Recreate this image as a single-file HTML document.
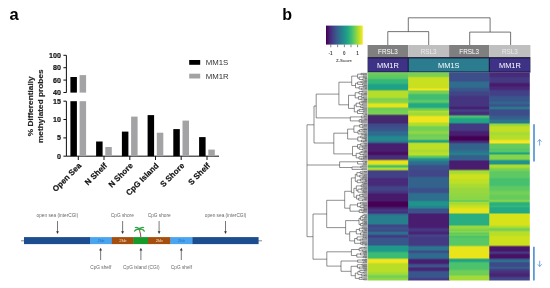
<!DOCTYPE html>
<html lang="en"><head><meta charset="utf-8"><title>Figure</title>
<style>html,body{margin:0;padding:0;background:#fff}body{width:550px;height:288px;overflow:hidden}svg{display:block}text{font-family:'Liberation Sans', Arial, sans-serif}</style></head><body>
<svg width="550" height="288" viewBox="0 0 550 288">
<defs>
<linearGradient id="g1" gradientUnits="userSpaceOnUse" x1="0" y1="72.5" x2="0" y2="280.5"><stop offset="0.00000" stop-color="#6ece58"/><stop offset="0.00721" stop-color="#6ece58"/><stop offset="0.01683" stop-color="#5ec962"/><stop offset="0.02644" stop-color="#5ec962"/><stop offset="0.03606" stop-color="#35b779"/><stop offset="0.05048" stop-color="#35b779"/><stop offset="0.06010" stop-color="#1fa187"/><stop offset="0.08077" stop-color="#1fa187"/><stop offset="0.09038" stop-color="#b5de2b"/><stop offset="0.11779" stop-color="#b5de2b"/><stop offset="0.12740" stop-color="#7ad151"/><stop offset="0.13221" stop-color="#7ad151"/><stop offset="0.14183" stop-color="#86d549"/><stop offset="0.14327" stop-color="#86d549"/><stop offset="0.15288" stop-color="#e5e419"/><stop offset="0.16346" stop-color="#e5e419"/><stop offset="0.17308" stop-color="#6ece58"/><stop offset="0.18029" stop-color="#6ece58"/><stop offset="0.18990" stop-color="#7ad151"/><stop offset="0.19856" stop-color="#7ad151"/><stop offset="0.20817" stop-color="#46286f"/><stop offset="0.24038" stop-color="#46286f"/><stop offset="0.25000" stop-color="#3e4989"/><stop offset="0.25721" stop-color="#3e4989"/><stop offset="0.26683" stop-color="#3b528b"/><stop offset="0.27644" stop-color="#3b528b"/><stop offset="0.28606" stop-color="#2f6b8e"/><stop offset="0.30048" stop-color="#2f6b8e"/><stop offset="0.31010" stop-color="#23898e"/><stop offset="0.32452" stop-color="#23898e"/><stop offset="0.33365" stop-color="#2c728e"/><stop offset="0.33462" stop-color="#2c728e"/><stop offset="0.34375" stop-color="#481f70"/><stop offset="0.37740" stop-color="#481f70"/><stop offset="0.38702" stop-color="#450d5c"/><stop offset="0.39183" stop-color="#450d5c"/><stop offset="0.40144" stop-color="#472d7b"/><stop offset="0.41587" stop-color="#472d7b"/><stop offset="0.42548" stop-color="#e5e419"/><stop offset="0.43990" stop-color="#e5e419"/><stop offset="0.44952" stop-color="#40bd72"/><stop offset="0.45192" stop-color="#40bd72"/><stop offset="0.46154" stop-color="#b5de2b"/><stop offset="0.46538" stop-color="#b5de2b"/><stop offset="0.47500" stop-color="#424086"/><stop offset="0.50240" stop-color="#424086"/><stop offset="0.51202" stop-color="#472a7a"/><stop offset="0.54087" stop-color="#472a7a"/><stop offset="0.55048" stop-color="#414487"/><stop offset="0.56490" stop-color="#414487"/><stop offset="0.57452" stop-color="#46327e"/><stop offset="0.57692" stop-color="#46327e"/><stop offset="0.58654" stop-color="#481a6c"/><stop offset="0.61538" stop-color="#481a6c"/><stop offset="0.62500" stop-color="#440154"/><stop offset="0.64183" stop-color="#440154"/><stop offset="0.65096" stop-color="#481f70"/><stop offset="0.65192" stop-color="#481f70"/><stop offset="0.66106" stop-color="#453781"/><stop offset="0.66587" stop-color="#453781"/><stop offset="0.67392" stop-color="#472d7b"/><stop offset="0.67464" stop-color="#472d7b"/><stop offset="0.68113" stop-color="#31688e"/><stop offset="0.68185" stop-color="#31688e"/><stop offset="0.68990" stop-color="#277f8e"/><stop offset="0.72596" stop-color="#277f8e"/><stop offset="0.73558" stop-color="#414487"/><stop offset="0.73798" stop-color="#414487"/><stop offset="0.74760" stop-color="#3b528b"/><stop offset="0.75240" stop-color="#3b528b"/><stop offset="0.76046" stop-color="#3e4989"/><stop offset="0.76118" stop-color="#3e4989"/><stop offset="0.76923" stop-color="#2e6e8e"/><stop offset="0.77644" stop-color="#2e6e8e"/><stop offset="0.78606" stop-color="#453781"/><stop offset="0.78846" stop-color="#453781"/><stop offset="0.79808" stop-color="#39568c"/><stop offset="0.82692" stop-color="#39568c"/><stop offset="0.83654" stop-color="#1f998a"/><stop offset="0.85817" stop-color="#1f998a"/><stop offset="0.86779" stop-color="#3cbb75"/><stop offset="0.89038" stop-color="#3cbb75"/><stop offset="0.90000" stop-color="#f4e61e"/><stop offset="0.91106" stop-color="#f4e61e"/><stop offset="0.92067" stop-color="#bade28"/><stop offset="0.95433" stop-color="#bade28"/><stop offset="0.96394" stop-color="#a5db36"/><stop offset="0.96875" stop-color="#a5db36"/><stop offset="0.97837" stop-color="#73d056"/><stop offset="0.98317" stop-color="#73d056"/><stop offset="0.99279" stop-color="#90d743"/><stop offset="1.00000" stop-color="#90d743"/></linearGradient>
<linearGradient id="g2" gradientUnits="userSpaceOnUse" x1="0" y1="72.5" x2="0" y2="280.5"><stop offset="0.00000" stop-color="#7ad151"/><stop offset="0.01683" stop-color="#7ad151"/><stop offset="0.02644" stop-color="#c8e020"/><stop offset="0.07212" stop-color="#c8e020"/><stop offset="0.08082" stop-color="#f4e61e"/><stop offset="0.08168" stop-color="#f4e61e"/><stop offset="0.09038" stop-color="#7ad151"/><stop offset="0.09856" stop-color="#7ad151"/><stop offset="0.10817" stop-color="#40bd72"/><stop offset="0.12740" stop-color="#40bd72"/><stop offset="0.13702" stop-color="#5ec962"/><stop offset="0.14183" stop-color="#5ec962"/><stop offset="0.15144" stop-color="#22a884"/><stop offset="0.16587" stop-color="#22a884"/><stop offset="0.17548" stop-color="#6ece58"/><stop offset="0.18029" stop-color="#6ece58"/><stop offset="0.18726" stop-color="#b5de2b"/><stop offset="0.18774" stop-color="#b5de2b"/><stop offset="0.19471" stop-color="#a0da39"/><stop offset="0.20433" stop-color="#a0da39"/><stop offset="0.21394" stop-color="#f1e51d"/><stop offset="0.23558" stop-color="#f1e51d"/><stop offset="0.24519" stop-color="#b5de2b"/><stop offset="0.25240" stop-color="#b5de2b"/><stop offset="0.26202" stop-color="#73d056"/><stop offset="0.27644" stop-color="#73d056"/><stop offset="0.28606" stop-color="#90d743"/><stop offset="0.29087" stop-color="#90d743"/><stop offset="0.30048" stop-color="#6ece58"/><stop offset="0.30529" stop-color="#6ece58"/><stop offset="0.31490" stop-color="#7ad151"/><stop offset="0.31971" stop-color="#7ad151"/><stop offset="0.32933" stop-color="#1f9e89"/><stop offset="0.33269" stop-color="#1f9e89"/><stop offset="0.34231" stop-color="#bddf26"/><stop offset="0.36779" stop-color="#bddf26"/><stop offset="0.37692" stop-color="#a5db36"/><stop offset="0.37788" stop-color="#a5db36"/><stop offset="0.38702" stop-color="#bddf26"/><stop offset="0.39423" stop-color="#bddf26"/><stop offset="0.40385" stop-color="#5ec962"/><stop offset="0.40625" stop-color="#5ec962"/><stop offset="0.41587" stop-color="#22928c"/><stop offset="0.42067" stop-color="#22928c"/><stop offset="0.43029" stop-color="#2e6e8e"/><stop offset="0.43990" stop-color="#2e6e8e"/><stop offset="0.44952" stop-color="#3c4f8a"/><stop offset="0.46394" stop-color="#3c4f8a"/><stop offset="0.47356" stop-color="#404688"/><stop offset="0.49760" stop-color="#404688"/><stop offset="0.50721" stop-color="#33638d"/><stop offset="0.55048" stop-color="#33638d"/><stop offset="0.56010" stop-color="#3c4f8a"/><stop offset="0.57452" stop-color="#3c4f8a"/><stop offset="0.58413" stop-color="#2e6e8e"/><stop offset="0.61298" stop-color="#2e6e8e"/><stop offset="0.62260" stop-color="#20938c"/><stop offset="0.63702" stop-color="#20938c"/><stop offset="0.64663" stop-color="#26828e"/><stop offset="0.64904" stop-color="#26828e"/><stop offset="0.65865" stop-color="#3b528b"/><stop offset="0.67308" stop-color="#3b528b"/><stop offset="0.68269" stop-color="#481c6e"/><stop offset="0.74279" stop-color="#481c6e"/><stop offset="0.75240" stop-color="#453781"/><stop offset="0.75962" stop-color="#453781"/><stop offset="0.76923" stop-color="#482475"/><stop offset="0.77404" stop-color="#482475"/><stop offset="0.78365" stop-color="#414487"/><stop offset="0.78606" stop-color="#414487"/><stop offset="0.79567" stop-color="#443983"/><stop offset="0.82933" stop-color="#443983"/><stop offset="0.83894" stop-color="#2b758e"/><stop offset="0.85096" stop-color="#2b758e"/><stop offset="0.86058" stop-color="#3e4989"/><stop offset="0.86298" stop-color="#3e4989"/><stop offset="0.87260" stop-color="#2f6b8e"/><stop offset="0.89183" stop-color="#2f6b8e"/><stop offset="0.90144" stop-color="#481f70"/><stop offset="0.91587" stop-color="#481f70"/><stop offset="0.92548" stop-color="#3b528b"/><stop offset="0.93269" stop-color="#3b528b"/><stop offset="0.94231" stop-color="#482475"/><stop offset="0.94952" stop-color="#482475"/><stop offset="0.95913" stop-color="#39568c"/><stop offset="0.98317" stop-color="#39568c"/><stop offset="0.99279" stop-color="#443983"/><stop offset="1.00000" stop-color="#443983"/></linearGradient>
<linearGradient id="g3" gradientUnits="userSpaceOnUse" x1="0" y1="72.5" x2="0" y2="280.5"><stop offset="0.00000" stop-color="#3c4f8a"/><stop offset="0.03846" stop-color="#3c4f8a"/><stop offset="0.04808" stop-color="#2f6c8e"/><stop offset="0.06971" stop-color="#2f6c8e"/><stop offset="0.07933" stop-color="#39558c"/><stop offset="0.08654" stop-color="#39558c"/><stop offset="0.09615" stop-color="#414487"/><stop offset="0.10817" stop-color="#414487"/><stop offset="0.11779" stop-color="#453480"/><stop offset="0.16106" stop-color="#453480"/><stop offset="0.17019" stop-color="#481a6c"/><stop offset="0.17115" stop-color="#481a6c"/><stop offset="0.18029" stop-color="#424086"/><stop offset="0.18510" stop-color="#424086"/><stop offset="0.19471" stop-color="#472a7a"/><stop offset="0.20096" stop-color="#472a7a"/><stop offset="0.21058" stop-color="#4ac16d"/><stop offset="0.21394" stop-color="#4ac16d"/><stop offset="0.22356" stop-color="#20a486"/><stop offset="0.23942" stop-color="#20a486"/><stop offset="0.24904" stop-color="#443983"/><stop offset="0.27644" stop-color="#443983"/><stop offset="0.28606" stop-color="#481f70"/><stop offset="0.30048" stop-color="#481f70"/><stop offset="0.31010" stop-color="#440154"/><stop offset="0.32212" stop-color="#440154"/><stop offset="0.33173" stop-color="#482475"/><stop offset="0.33413" stop-color="#482475"/><stop offset="0.34375" stop-color="#33638d"/><stop offset="0.36779" stop-color="#33638d"/><stop offset="0.37740" stop-color="#2c728e"/><stop offset="0.38221" stop-color="#2c728e"/><stop offset="0.39135" stop-color="#26828e"/><stop offset="0.39231" stop-color="#26828e"/><stop offset="0.40144" stop-color="#355f8d"/><stop offset="0.41827" stop-color="#355f8d"/><stop offset="0.42788" stop-color="#481d6f"/><stop offset="0.46394" stop-color="#481d6f"/><stop offset="0.47356" stop-color="#a5db36"/><stop offset="0.48317" stop-color="#a5db36"/><stop offset="0.49279" stop-color="#cde11d"/><stop offset="0.50721" stop-color="#cde11d"/><stop offset="0.51683" stop-color="#bddf26"/><stop offset="0.53125" stop-color="#bddf26"/><stop offset="0.54087" stop-color="#a8db34"/><stop offset="0.55048" stop-color="#a8db34"/><stop offset="0.56010" stop-color="#98d83e"/><stop offset="0.57452" stop-color="#98d83e"/><stop offset="0.58413" stop-color="#90d743"/><stop offset="0.58894" stop-color="#90d743"/><stop offset="0.59856" stop-color="#8bd646"/><stop offset="0.61058" stop-color="#8bd646"/><stop offset="0.61755" stop-color="#5ec962"/><stop offset="0.61803" stop-color="#5ec962"/><stop offset="0.62500" stop-color="#a5db36"/><stop offset="0.63221" stop-color="#a5db36"/><stop offset="0.64183" stop-color="#c8e020"/><stop offset="0.64663" stop-color="#c8e020"/><stop offset="0.65625" stop-color="#e7e419"/><stop offset="0.67308" stop-color="#e7e419"/><stop offset="0.68269" stop-color="#28ae80"/><stop offset="0.73077" stop-color="#28ae80"/><stop offset="0.74038" stop-color="#98d83e"/><stop offset="0.74760" stop-color="#98d83e"/><stop offset="0.75721" stop-color="#7ad151"/><stop offset="0.75962" stop-color="#7ad151"/><stop offset="0.76615" stop-color="#95d840"/><stop offset="0.76654" stop-color="#95d840"/><stop offset="0.77195" stop-color="#5ec962"/><stop offset="0.77276" stop-color="#5ec962"/><stop offset="0.78077" stop-color="#6ece58"/><stop offset="0.78173" stop-color="#6ece58"/><stop offset="0.78930" stop-color="#4ac16d"/><stop offset="0.79002" stop-color="#4ac16d"/><stop offset="0.79808" stop-color="#58c765"/><stop offset="0.82933" stop-color="#58c765"/><stop offset="0.83894" stop-color="#e9e51a"/><stop offset="0.89038" stop-color="#e9e51a"/><stop offset="0.90000" stop-color="#1fa187"/><stop offset="0.90625" stop-color="#1fa187"/><stop offset="0.91587" stop-color="#4cc26c"/><stop offset="0.94471" stop-color="#4cc26c"/><stop offset="0.95433" stop-color="#6ece58"/><stop offset="0.97115" stop-color="#6ece58"/><stop offset="0.98077" stop-color="#a2da37"/><stop offset="1.00000" stop-color="#a2da37"/></linearGradient>
<linearGradient id="g4" gradientUnits="userSpaceOnUse" x1="0" y1="72.5" x2="0" y2="280.5"><stop offset="0.00000" stop-color="#472a7a"/><stop offset="0.01683" stop-color="#472a7a"/><stop offset="0.02644" stop-color="#443983"/><stop offset="0.04567" stop-color="#443983"/><stop offset="0.05529" stop-color="#481a6c"/><stop offset="0.06250" stop-color="#481a6c"/><stop offset="0.07212" stop-color="#482878"/><stop offset="0.07933" stop-color="#482878"/><stop offset="0.08894" stop-color="#424086"/><stop offset="0.10817" stop-color="#424086"/><stop offset="0.11779" stop-color="#39568c"/><stop offset="0.13702" stop-color="#39568c"/><stop offset="0.14615" stop-color="#31688e"/><stop offset="0.14712" stop-color="#31688e"/><stop offset="0.15625" stop-color="#3b528b"/><stop offset="0.16106" stop-color="#3b528b"/><stop offset="0.17019" stop-color="#26828e"/><stop offset="0.17115" stop-color="#26828e"/><stop offset="0.18029" stop-color="#3d4d8a"/><stop offset="0.20433" stop-color="#3d4d8a"/><stop offset="0.21394" stop-color="#34608d"/><stop offset="0.22115" stop-color="#34608d"/><stop offset="0.23077" stop-color="#2b758e"/><stop offset="0.24038" stop-color="#2b758e"/><stop offset="0.25000" stop-color="#90d743"/><stop offset="0.25240" stop-color="#90d743"/><stop offset="0.26202" stop-color="#c2df23"/><stop offset="0.28125" stop-color="#c2df23"/><stop offset="0.29087" stop-color="#a5db36"/><stop offset="0.29567" stop-color="#a5db36"/><stop offset="0.30529" stop-color="#b5de2b"/><stop offset="0.31971" stop-color="#b5de2b"/><stop offset="0.32933" stop-color="#f8e621"/><stop offset="0.33654" stop-color="#f8e621"/><stop offset="0.34615" stop-color="#65cb5e"/><stop offset="0.36298" stop-color="#65cb5e"/><stop offset="0.37060" stop-color="#52c569"/><stop offset="0.37123" stop-color="#52c569"/><stop offset="0.37815" stop-color="#5ec962"/><stop offset="0.37906" stop-color="#5ec962"/><stop offset="0.38798" stop-color="#1fa187"/><stop offset="0.38942" stop-color="#1fa187"/><stop offset="0.39904" stop-color="#86d549"/><stop offset="0.41587" stop-color="#86d549"/><stop offset="0.42548" stop-color="#20938c"/><stop offset="0.43750" stop-color="#20938c"/><stop offset="0.44712" stop-color="#addc30"/><stop offset="0.45433" stop-color="#addc30"/><stop offset="0.46394" stop-color="#7ad151"/><stop offset="0.46875" stop-color="#7ad151"/><stop offset="0.47837" stop-color="#5ec962"/><stop offset="0.50240" stop-color="#5ec962"/><stop offset="0.51202" stop-color="#46c06f"/><stop offset="0.54087" stop-color="#46c06f"/><stop offset="0.55048" stop-color="#5ec962"/><stop offset="0.56490" stop-color="#5ec962"/><stop offset="0.57452" stop-color="#73d056"/><stop offset="0.58413" stop-color="#73d056"/><stop offset="0.59375" stop-color="#65cb5e"/><stop offset="0.60817" stop-color="#65cb5e"/><stop offset="0.61731" stop-color="#90d743"/><stop offset="0.61827" stop-color="#90d743"/><stop offset="0.62740" stop-color="#2ab07f"/><stop offset="0.63702" stop-color="#2ab07f"/><stop offset="0.64399" stop-color="#35b779"/><stop offset="0.64447" stop-color="#35b779"/><stop offset="0.65144" stop-color="#22a884"/><stop offset="0.67308" stop-color="#22a884"/><stop offset="0.68269" stop-color="#d8e219"/><stop offset="0.73077" stop-color="#d8e219"/><stop offset="0.74038" stop-color="#b5de2b"/><stop offset="0.74279" stop-color="#b5de2b"/><stop offset="0.75240" stop-color="#73d056"/><stop offset="0.75721" stop-color="#73d056"/><stop offset="0.76683" stop-color="#b8de29"/><stop offset="0.78125" stop-color="#b8de29"/><stop offset="0.79087" stop-color="#cde11d"/><stop offset="0.82933" stop-color="#cde11d"/><stop offset="0.83894" stop-color="#481769"/><stop offset="0.85577" stop-color="#481769"/><stop offset="0.86538" stop-color="#443983"/><stop offset="0.86779" stop-color="#443983"/><stop offset="0.87740" stop-color="#471164"/><stop offset="0.88942" stop-color="#471164"/><stop offset="0.89748" stop-color="#3b528b"/><stop offset="0.89820" stop-color="#3b528b"/><stop offset="0.90577" stop-color="#29798e"/><stop offset="0.90673" stop-color="#29798e"/><stop offset="0.91587" stop-color="#3e4989"/><stop offset="0.93029" stop-color="#3e4989"/><stop offset="0.93942" stop-color="#34608d"/><stop offset="0.94038" stop-color="#34608d"/><stop offset="0.94796" stop-color="#433e85"/><stop offset="0.94868" stop-color="#433e85"/><stop offset="0.95673" stop-color="#46327e"/><stop offset="0.95913" stop-color="#46327e"/><stop offset="0.96875" stop-color="#482475"/><stop offset="0.97837" stop-color="#482475"/><stop offset="0.98798" stop-color="#404688"/><stop offset="1.00000" stop-color="#404688"/></linearGradient>
<linearGradient id="vir" x1="0" y1="0" x2="1" y2="0">
<stop offset="0.00" stop-color="#440154"/>
<stop offset="0.10" stop-color="#482475"/>
<stop offset="0.20" stop-color="#414487"/>
<stop offset="0.30" stop-color="#355f8d"/>
<stop offset="0.40" stop-color="#2a788e"/>
<stop offset="0.50" stop-color="#21918c"/>
<stop offset="0.60" stop-color="#22a884"/>
<stop offset="0.70" stop-color="#44bf70"/>
<stop offset="0.80" stop-color="#7ad151"/>
<stop offset="0.90" stop-color="#bddf26"/>
<stop offset="1.00" stop-color="#fde725"/>
</linearGradient>
<filter id="soft" x="-5%" y="-5%" width="110%" height="110%"><feGaussianBlur stdDeviation="0.35"/></filter>
</defs>
<rect width="550" height="288" fill="#fff"/>
<text x="9.5" y="19.8" font-size="16.5" font-weight="bold" fill="#000">a</text>
<text x="282.2" y="19.5" font-size="16" font-weight="bold" fill="#000">b</text>
<g id="barchart" filter="url(#soft)">
<g stroke="#111" stroke-width="1" fill="none">
<path d="M66.4 55.3V92.6M66.4 101.2V156.2H219"/>
<path d="M63.400000000000006 55.3H66.4"/>
<path d="M63.400000000000006 67.7H66.4"/>
<path d="M63.400000000000006 80.1H66.4"/>
<path d="M63.400000000000006 92.5H66.4"/>
<path d="M63.400000000000006 101.2H66.4"/>
<path d="M63.400000000000006 119.5H66.4"/>
<path d="M63.400000000000006 137.9H66.4"/>
<path d="M63.400000000000006 156.2H66.4"/>
<path d="M78.3 156.2V160"/>
<path d="M104.0 156.2V160"/>
<path d="M129.8 156.2V160"/>
<path d="M155.5 156.2V160"/>
<path d="M181.2 156.2V160"/>
<path d="M207.0 156.2V160"/>
</g>
<g font-size="7.1" font-weight="bold" fill="#111" stroke="#111" stroke-width="0.2" text-anchor="end">
<text x="60.9" y="57.8">100</text>
<text x="60.9" y="70.2">80</text>
<text x="60.9" y="82.6">60</text>
<text x="60.9" y="95.0">40</text>
<text x="60.9" y="103.7">15</text>
<text x="60.9" y="122.0">10</text>
<text x="60.9" y="140.4">5</text>
<text x="60.9" y="158.7">0</text>
</g>
<rect x="70.4" y="77.0" width="6.5" height="15.6" fill="#000"/>
<rect x="70.4" y="101.2" width="6.5" height="55" fill="#000"/>
<rect x="79.6" y="75.1" width="6.5" height="17.5" fill="#a3a3a6"/>
<rect x="79.6" y="101.2" width="6.5" height="55" fill="#a3a3a6"/>
<rect x="96.1" y="141.5" width="6.5" height="14.7" fill="#000"/>
<rect x="105.3" y="147.0" width="6.5" height="9.2" fill="#a3a3a6"/>
<rect x="121.9" y="131.6" width="6.5" height="24.6" fill="#000"/>
<rect x="131.1" y="116.6" width="6.5" height="39.6" fill="#a3a3a6"/>
<rect x="147.6" y="115.1" width="6.5" height="41.1" fill="#000"/>
<rect x="156.8" y="132.7" width="6.5" height="23.5" fill="#a3a3a6"/>
<rect x="173.3" y="129.1" width="6.5" height="27.1" fill="#000"/>
<rect x="182.5" y="120.6" width="6.5" height="35.6" fill="#a3a3a6"/>
<rect x="199.1" y="137.1" width="6.5" height="19.1" fill="#000"/>
<rect x="208.3" y="149.6" width="6.5" height="6.6" fill="#a3a3a6"/>
<g font-size="8" font-weight="bold" fill="#111" stroke="#111" stroke-width="0.2" text-anchor="end">
<text transform="translate(81.9 166.2) rotate(-45)">Open Sea</text>
<text transform="translate(107.6 166.2) rotate(-45)">N Shelf</text>
<text transform="translate(133.4 166.2) rotate(-45)">N Shore</text>
<text transform="translate(159.1 166.2) rotate(-45)">CpG Island</text>
<text transform="translate(184.8 166.2) rotate(-45)">S Shore</text>
<text transform="translate(210.6 166.2) rotate(-45)">S Shelf</text>
</g>
<g font-size="7.1" font-weight="bold" fill="#222" stroke="#222" stroke-width="0.15" text-anchor="middle">
<text transform="translate(33.3 106.3) rotate(-90)" textLength="60" lengthAdjust="spacingAndGlyphs">% Differentially</text>
<text transform="translate(43.2 106.2) rotate(-90)" textLength="73.6" lengthAdjust="spacingAndGlyphs">methylated probes</text>
</g>
<rect x="189.2" y="60" width="11" height="4.8" fill="#000"/>
<rect x="189.2" y="73.7" width="11" height="4.8" fill="#a3a3a6"/>
<g font-size="7.8" fill="#333"><text x="205.8" y="65.1">MM1S</text><text x="205.8" y="78.8">MM1R</text></g>
</g>
<g id="cpg" filter="url(#soft)">
<path d="M21 240.8H262" stroke="#555" stroke-width="0.7"/>
<rect x="24" y="237.1" width="66.5" height="7" fill="#1d4e8f"/>
<rect x="90.1" y="237.1" width="22.1" height="7" fill="#4aa5f0"/>
<rect x="111.8" y="237.1" width="22.0" height="7" fill="#a4500f"/>
<rect x="133.4" y="237.1" width="15.0" height="7" fill="#149a2c"/>
<rect x="148" y="237.1" width="22.7" height="7" fill="#a4500f"/>
<rect x="170.3" y="237.1" width="22.6" height="7" fill="#4aa5f0"/>
<rect x="192.5" y="237.1" width="66.1" height="7" fill="#1d4e8f"/>
<g font-size="4.4" text-anchor="middle">
<text x="101" y="242.3" fill="#2a6fbd">2kb</text>
<text x="122.8" y="242.3" fill="#f1dcc6">2kb</text>
<text x="159.2" y="242.3" fill="#f1dcc6">2kb</text>
<text x="181.4" y="242.3" fill="#2a6fbd">2kb</text>
</g>
<g font-size="4.75" fill="#6a6a6a" text-anchor="middle">
<text x="57.4" y="216.6">open sea (interCGI)</text>
<text x="122.3" y="216.6">CpG shore</text>
<text x="159.2" y="216.6">CpG shore</text>
<text x="225.6" y="216.6">open sea (interCGI)</text>
<text x="100.8" y="268.6">CpG shelf</text>
<text x="141.3" y="268.6">CpG island (CGI)</text>
<text x="181.4" y="268.6">CpG shelf</text>
</g>
<g stroke="#333" stroke-width="0.65" fill="#333">
<path d="M57.5 221V232"/><path d="M56.1 231.2L57.5 233.9L58.9 231.2Z" stroke="none"/>
<path d="M122.6 221V232"/><path d="M121.2 231.2L122.6 233.9L124.0 231.2Z" stroke="none"/>
<path d="M159.1 221V232"/><path d="M157.7 231.2L159.1 233.9L160.5 231.2Z" stroke="none"/>
<path d="M225.5 221V232"/><path d="M224.1 231.2L225.5 233.9L226.9 231.2Z" stroke="none"/>
<path d="M100.6 260V249.5"/><path d="M99.2 250.4L100.6 247.7L102.0 250.4Z" stroke="none"/>
<path d="M140.9 260V249.5"/><path d="M139.5 250.4L140.9 247.7L142.3 250.4Z" stroke="none"/>
<path d="M181.3 260V249.5"/><path d="M179.9 250.4L181.3 247.7L182.7 250.4Z" stroke="none"/>
</g>
<path d="M140.8 237C140.7 234.5 140.2 232.5 139.5 230.2" stroke="#a2564c" stroke-width="1.1" fill="none"/>
<g stroke="#35a548" stroke-width="1.25" fill="none" stroke-linecap="round"><path d="M139.4 229.6C137.6 228.9 135.6 229.6 134.5 231.2"/><path d="M139.4 229.6C141.2 228.9 143.3 229.6 144.3 231.2"/><path d="M139.4 229.6C138.4 227.9 136.8 227.2 135.3 227.5"/><path d="M139.4 229.6C140.4 227.9 142 227.2 143.6 227.5"/><path d="M139.4 229.8L139.4 228"/></g>
</g>
<g id="key" filter="url(#soft)">
<rect x="326" y="25.6" width="36.8" height="19" fill="url(#vir)"/>
<g stroke="#333" stroke-width="0.6">
<path d="M330.8 44.6V47.2"/>
<path d="M337.6 44.6V47.2"/>
<path d="M344.4 44.6V47.2"/>
<path d="M351 44.6V47.2"/>
<path d="M357.6 44.6V47.2"/>
</g>
<g font-size="4.5" fill="#3a3a3a" text-anchor="middle" font-weight="bold">
<text x="330.6" y="55">-1</text><text x="344.3" y="55">0</text><text x="357.6" y="55">1</text>
<text x="344" y="62.1" font-size="4.3" fill="#555">Z-Score</text>
</g></g>
<g id="coldend" filter="url(#soft)">
<path d="M387.8 45.2V31.6H428.7V45.2M469.7 45.2V32.1H510.6V45.2M408.3 31.6V17.8H490.1V32.1" stroke="#3a3a3a" stroke-width="0.7" fill="none"/>
</g>
<g id="annot" filter="url(#soft)">
<rect x="367.6" y="45" width="40.6" height="12.3" fill="#7f7f7f"/>
<text transform="translate(387.9 53.9) scale(0.86 1)" font-size="7.4" fill="#fff" text-anchor="middle">FRSL3</text>
<rect x="408.2" y="45" width="40.9" height="12.3" fill="#bfbfbf"/>
<text transform="translate(428.6 53.9) scale(0.86 1)" font-size="7.4" fill="#ebebeb" text-anchor="middle">RSL3</text>
<rect x="449.1" y="45" width="40.2" height="12.3" fill="#7f7f7f"/>
<text transform="translate(469.2 53.9) scale(0.86 1)" font-size="7.4" fill="#fff" text-anchor="middle">FRSL3</text>
<rect x="489.3" y="45" width="41.1" height="12.3" fill="#bfbfbf"/>
<text transform="translate(509.9 53.9) scale(0.86 1)" font-size="7.4" fill="#ebebeb" text-anchor="middle">RSL3</text>
<rect x="367.6" y="57.1" width="162.8" height="15.5" fill="#1c1838"/>
<rect x="368.10" y="58.4" width="39.6" height="13.1" fill="#3d3386"/>
<text transform="translate(387.9 67.9) scale(0.94 1)" font-size="7.9" fill="#fff" text-anchor="middle">MM1R</text>
<rect x="408.70" y="58.4" width="80.1" height="13.1" fill="#2a7b8e"/>
<text transform="translate(448.8 67.9) scale(0.94 1)" font-size="7.9" fill="#fff" text-anchor="middle">MM1S</text>
<rect x="489.80" y="58.4" width="40.1" height="13.1" fill="#3d3386"/>
<text transform="translate(509.9 67.9) scale(0.94 1)" font-size="7.9" fill="#fff" text-anchor="middle">MM1R</text>
</g>
<g id="heatmap">
<rect x="367.6" y="72.4" width="41.20" height="208.1" fill="url(#g1)"/>
<rect x="408.2" y="72.4" width="41.50" height="208.1" fill="url(#g2)"/>
<rect x="449.1" y="72.4" width="40.80" height="208.1" fill="url(#g3)"/>
<rect x="489.3" y="72.4" width="40.50" height="208.1" fill="url(#g4)"/>
</g>
<g id="rowdend" filter="url(#soft)">
<path d="M363.2 74.3H367.2M363.2 75.2H367.2M363.2 74.3V75.2M361.0 73.4H367.2M361.0 74.7H363.2M361.0 73.4V74.7M363.2 76.4H367.2M363.2 77.5H367.2M363.2 76.4V77.5M365.1 78.5H367.2M365.1 79.2H367.2M365.1 78.5V79.2M362.8 78.8H365.1M362.8 80.2H367.2M362.8 78.8V80.2M359.2 77.0H363.2M359.2 79.5H362.8M359.2 77.0V79.5M357.6 74.1H361.0M357.6 78.2H359.2M357.6 74.1V78.2M364.8 81.0H367.2M364.8 81.7H367.2M364.8 81.0V81.7M360.9 81.3H364.8M360.9 82.6H367.2M360.9 81.3V82.6M364.2 84.7H367.2M364.2 85.5H367.2M364.2 84.7V85.5M362.6 83.6H367.2M362.6 85.1H364.2M362.6 83.6V85.1M357.6 82.0H360.9M357.6 84.4H362.6M357.6 82.0V84.4M363.1 86.3H367.2M363.1 87.2H367.2M363.1 86.3V87.2M365.4 87.9H367.2M365.4 88.6H367.2M365.4 87.9V88.6M361.3 88.3H365.4M361.3 89.7H367.2M361.3 88.3V89.7M359.1 86.7H363.1M359.1 89.0H361.3M359.1 86.7V89.0M355.5 83.2H357.6M355.5 87.8H359.1M355.5 83.2V87.8M351.7 76.1H357.6M351.7 85.5H355.5M351.7 76.1V85.5M362.2 91.0H367.2M362.2 92.0H367.2M362.2 91.0V92.0M364.7 93.0H367.2M364.7 93.7H367.2M364.7 93.0V93.7M361.4 93.3H364.7M361.4 94.5H367.2M361.4 93.3V94.5M359.0 91.5H362.2M359.0 93.9H361.4M359.0 91.5V93.9M363.3 96.9H367.2M363.3 97.9H367.2M363.3 96.9V97.9M361.4 95.7H367.2M361.4 97.4H363.3M361.4 95.7V97.4M364.4 99.5H367.2M364.4 100.3H367.2M364.4 99.5V100.3M360.9 98.8H367.2M360.9 99.9H364.4M360.9 98.8V99.9M358.4 96.6H361.4M358.4 99.3H360.9M358.4 96.6V99.3M355.2 92.7H359.0M355.2 97.9H358.4M355.2 92.7V97.9M363.4 101.1H367.2M363.4 101.8H367.2M363.4 101.1V101.8M361.8 101.4H363.4M361.8 102.7H367.2M361.8 101.4V102.7M362.6 103.8H367.2M362.6 104.9H367.2M362.6 103.8V104.9M359.6 102.0H361.8M359.6 104.3H362.6M359.6 102.0V104.3M362.7 107.0H367.2M362.7 108.0H367.2M362.7 107.0V108.0M360.6 105.9H367.2M360.6 107.5H362.7M360.6 105.9V107.5M356.2 103.2H359.6M356.2 106.7H360.6M356.2 103.2V106.7M362.7 108.9H367.2M362.7 109.8H367.2M362.7 108.9V109.8M363.7 110.8H367.2M363.7 111.8H367.2M363.7 110.8V111.8M359.1 109.4H362.7M359.1 111.3H363.7M359.1 109.4V111.3M365.4 113.8H367.2M365.4 114.5H367.2M365.4 113.8V114.5M362.8 112.9H367.2M362.8 114.2H365.4M362.8 112.9V114.2M357.5 110.3H359.1M357.5 113.5H362.8M357.5 110.3V113.5M354.3 105.0H356.2M354.3 111.9H357.5M354.3 105.0V111.9M348.5 95.3H355.2M348.5 108.4H354.3M348.5 95.3V108.4M364.1 115.7H367.2M364.1 116.6H367.2M364.1 115.7V116.6M361.4 116.1H364.1M361.4 117.7H367.2M361.4 116.1V117.7M364.7 118.7H367.2M364.7 119.5H367.2M364.7 118.7V119.5M361.0 119.1H364.7M361.0 120.4H367.2M361.0 119.1V120.4M361.4 121.4H367.2M361.4 122.6H367.2M361.4 121.4V122.6M359.2 119.7H361.0M359.2 122.0H361.4M359.2 119.7V122.0M350.3 116.9H361.4M350.3 120.9H359.2M350.3 116.9V120.9M364.3 124.8H367.2M364.3 125.6H367.2M364.3 124.8V125.6M361.9 124.0H367.2M361.9 125.2H364.3M361.9 124.0V125.2M362.6 126.6H367.2M362.6 127.8H367.2M362.6 126.6V127.8M359.7 124.6H361.9M359.7 127.2H362.6M359.7 124.6V127.2M363.8 128.8H367.2M363.8 129.5H367.2M363.8 128.8V129.5M361.8 129.2H363.8M361.8 130.2H367.2M361.8 129.2V130.2M363.9 131.3H367.2M363.9 132.3H367.2M363.9 131.3V132.3M359.6 129.7H361.8M359.6 131.8H363.9M359.6 129.7V131.8M364.9 134.2H367.2M364.9 134.8H367.2M364.9 134.2V134.8M361.7 133.3H367.2M361.7 134.5H364.9M361.7 133.3V134.5M358.0 130.7H359.6M358.0 133.9H361.7M358.0 130.7V133.9M353.9 125.9H359.7M353.9 132.3H358.0M353.9 125.9V132.3M364.5 135.6H367.2M364.5 136.4H367.2M364.5 135.6V136.4M365.0 138.1H367.2M365.0 138.9H367.2M365.0 138.1V138.9M362.6 137.4H367.2M362.6 138.5H365.0M362.6 137.4V138.5M360.8 136.0H364.5M360.8 137.9H362.6M360.8 136.0V137.9M365.0 139.7H367.2M365.0 140.5H367.2M365.0 139.7V140.5M363.1 141.3H367.2M363.1 142.2H367.2M363.1 141.3V142.2M361.5 140.1H365.0M361.5 141.8H363.1M361.5 140.1V141.8M357.8 137.0H360.8M357.8 141.0H361.5M357.8 137.0V141.0M347.6 129.1H353.9M347.6 139.0H357.8M347.6 129.1V139.0M364.5 143.5H367.2M364.5 144.2H367.2M364.5 143.5V144.2M365.3 145.0H367.2M365.3 145.7H367.2M365.3 145.0V145.7M360.4 143.8H364.5M360.4 145.3H365.3M360.4 143.8V145.3M362.3 146.4H367.2M362.3 147.4H367.2M362.3 146.4V147.4M364.3 148.3H367.2M364.3 149.1H367.2M364.3 148.3V149.1M362.7 148.7H364.3M362.7 150.1H367.2M362.7 148.7V150.1M359.1 146.9H362.3M359.1 149.4H362.7M359.1 146.9V149.4M357.5 144.6H360.4M357.5 148.2H359.1M357.5 144.6V148.2M364.9 150.9H367.2M364.9 151.6H367.2M364.9 150.9V151.6M364.2 152.3H367.2M364.2 153.2H367.2M364.2 152.3V153.2M361.6 151.3H364.9M361.6 152.8H364.2M361.6 151.3V152.8M362.9 154.2H367.2M362.9 155.1H367.2M362.9 154.2V155.1M360.0 152.0H361.6M360.0 154.6H362.9M360.0 152.0V154.6M364.9 155.9H367.2M364.9 156.6H367.2M364.9 155.9V156.6M363.3 156.2H364.9M363.3 157.2H367.2M363.3 156.2V157.2M363.5 157.9H367.2M363.5 158.7H367.2M363.5 157.9V158.7M361.0 158.3H363.5M361.0 159.7H367.2M361.0 158.3V159.7M359.0 156.7H363.3M359.0 159.0H361.0M359.0 156.7V159.0M356.2 153.3H360.0M356.2 157.9H359.0M356.2 153.3V157.9M352.5 146.4H357.5M352.5 155.6H356.2M352.5 146.4V155.6M365.0 161.7H367.2M365.0 162.4H367.2M365.0 161.7V162.4M362.8 161.0H367.2M362.8 162.1H365.0M362.8 161.0V162.1M363.6 163.4H367.2M363.6 164.5H367.2M363.6 163.4V164.5M357.6 161.5H362.8M357.6 164.0H363.6M357.6 161.5V164.0M362.4 165.7H367.2M362.4 166.7H367.2M362.4 165.7V166.7M360.8 166.2H362.4M360.8 167.9H367.2M360.8 166.2V167.9M362.0 168.9H367.2M362.0 169.8H367.2M362.0 168.9V169.8M352.0 167.0H360.8M352.0 169.4H362.0M352.0 167.0V169.4M364.4 171.4H367.2M364.4 172.0H367.2M364.4 171.4V172.0M361.8 172.9H367.2M361.8 174.0H367.2M361.8 172.9V174.0M360.2 171.7H364.4M360.2 173.4H361.8M360.2 171.7V173.4M364.3 174.8H367.2M364.3 175.7H367.2M364.3 174.8V175.7M362.8 176.6H367.2M362.8 177.5H367.2M362.8 176.6V177.5M359.7 175.2H364.3M359.7 177.1H362.8M359.7 175.2V177.1M356.9 172.6H360.2M356.9 176.1H359.7M356.9 172.6V176.1M365.2 179.3H367.2M365.2 180.0H367.2M365.2 179.3V180.0M361.9 178.4H367.2M361.9 179.6H365.2M361.9 178.4V179.6M365.2 180.7H367.2M365.2 181.4H367.2M365.2 180.7V181.4M360.3 179.0H361.9M360.3 181.0H365.2M360.3 179.0V181.0M364.3 183.0H367.2M364.3 183.6H367.2M364.3 183.0V183.6M362.7 182.1H367.2M362.7 183.3H364.3M362.7 182.1V183.3M357.2 180.0H360.3M357.2 182.7H362.7M357.2 180.0V182.7M355.3 174.4H356.9M355.3 181.4H357.2M355.3 174.4V181.4M362.8 184.4H367.2M362.8 185.4H367.2M362.8 184.4V185.4M362.8 186.4H367.2M362.8 187.3H367.2M362.8 186.4V187.3M361.2 184.9H362.8M361.2 186.9H362.8M361.2 184.9V186.9M364.8 188.0H367.2M364.8 188.7H367.2M364.8 188.0V188.7M362.9 189.6H367.2M362.9 190.6H367.2M362.9 189.6V190.6M361.2 188.4H364.8M361.2 190.1H362.9M361.2 188.4V190.1M364.4 192.3H367.2M364.4 193.0H367.2M364.4 192.3V193.0M362.8 191.5H367.2M362.8 192.7H364.4M362.8 191.5V192.7M357.9 189.2H361.2M357.9 192.1H362.8M357.9 189.2V192.1M356.3 185.9H361.2M356.3 190.7H357.9M356.3 185.9V190.7M362.2 193.9H367.2M362.2 194.8H367.2M362.2 193.9V194.8M362.8 195.8H367.2M362.8 196.8H367.2M362.8 195.8V196.8M359.7 194.3H362.2M359.7 196.3H362.8M359.7 194.3V196.3M364.3 197.6H367.2M364.3 198.3H367.2M364.3 197.6V198.3M364.9 199.2H367.2M364.9 199.9H367.2M364.9 199.2V199.9M362.5 199.6H364.9M362.5 200.9H367.2M362.5 199.6V200.9M358.7 198.0H364.3M358.7 200.2H362.5M358.7 198.0V200.2M356.6 195.3H359.7M356.6 199.1H358.7M356.6 195.3V199.1M353.9 188.3H356.3M353.9 197.2H356.6M353.9 188.3V197.2M351.4 177.9H355.3M351.4 192.7H353.9M351.4 177.9V192.7M362.7 203.5H367.2M362.7 204.5H367.2M362.7 203.5V204.5M360.5 202.4H367.2M360.5 204.0H362.7M360.5 202.4V204.0M363.8 205.5H367.2M363.8 206.2H367.2M363.8 205.5V206.2M363.3 207.0H367.2M363.3 207.9H367.2M363.3 207.0V207.9M360.1 205.8H363.8M360.1 207.5H363.3M360.1 205.8V207.5M357.5 203.2H360.5M357.5 206.7H360.1M357.5 203.2V206.7M364.0 208.7H367.2M364.0 209.5H367.2M364.0 208.7V209.5M363.6 210.3H367.2M363.6 211.1H367.2M363.6 210.3V211.1M361.0 209.1H364.0M361.0 210.7H363.6M361.0 209.1V210.7M362.7 211.9H367.2M362.7 212.9H367.2M362.7 211.9V212.9M359.2 209.9H361.0M359.2 212.4H362.7M359.2 209.9V212.4M350.0 204.9H357.5M350.0 211.2H359.2M350.0 204.9V211.2M365.4 215.6H367.2M365.4 216.5H367.2M365.4 215.6V216.5M363.8 214.6H367.2M363.8 216.0H365.4M363.8 214.6V216.0M364.1 217.5H367.2M364.1 218.4H367.2M364.1 217.5V218.4M362.2 215.3H363.8M362.2 217.9H364.1M362.2 215.3V217.9M363.8 220.6H367.2M363.8 221.5H367.2M363.8 220.6V221.5M362.2 219.5H367.2M362.2 221.0H363.8M362.2 219.5V221.0M360.6 216.6H362.2M360.6 220.2H362.2M360.6 216.6V220.2M364.8 222.4H367.2M364.8 223.1H367.2M364.8 222.4V223.1M363.8 223.7H367.2M363.8 224.4H367.2M363.8 223.7V224.4M362.2 222.8H364.8M362.2 224.0H363.8M362.2 222.8V224.0M362.7 225.3H367.2M362.7 226.3H367.2M362.7 225.3V226.3M360.6 223.4H362.2M360.6 225.8H362.7M360.6 223.4V225.8M359.0 218.4H360.6M359.0 224.6H360.6M359.0 218.4V224.6M363.8 228.4H367.2M363.8 229.2H367.2M363.8 228.4V229.2M362.1 227.6H367.2M362.1 228.8H363.8M362.1 227.6V228.8M364.9 229.9H367.2M364.9 230.5H367.2M364.9 229.9V230.5M362.5 230.2H364.9M362.5 231.6H367.2M362.5 230.2V231.6M359.4 228.2H362.1M359.4 230.9H362.5M359.4 228.2V230.9M363.6 232.5H367.2M363.6 233.3H367.2M363.6 232.5V233.3M363.0 234.4H367.2M363.0 235.4H367.2M363.0 234.4V235.4M360.5 232.9H363.6M360.5 234.9H363.0M360.5 232.9V234.9M356.3 229.5H359.4M356.3 233.9H360.5M356.3 229.5V233.9M365.4 237.2H367.2M365.4 237.9H367.2M365.4 237.2V237.9M363.0 236.3H367.2M363.0 237.5H365.4M363.0 236.3V237.5M362.2 238.7H367.2M362.2 239.7H367.2M362.2 238.7V239.7M360.1 239.2H362.2M360.1 240.9H367.2M360.1 239.2V240.9M357.1 236.9H363.0M357.1 240.0H360.1M357.1 236.9V240.0M362.7 241.9H367.2M362.7 242.8H367.2M362.7 241.9V242.8M365.2 244.5H367.2M365.2 245.3H367.2M365.2 244.5V245.3M362.2 243.6H367.2M362.2 244.9H365.2M362.2 243.6V244.9M360.6 242.4H362.7M360.6 244.2H362.2M360.6 242.4V244.2M354.6 238.5H357.1M354.6 243.3H360.6M354.6 238.5V243.3M349.7 231.7H356.3M349.7 240.9H354.6M349.7 231.7V240.9M364.3 247.0H367.2M364.3 247.9H367.2M364.3 247.0V247.9M360.8 247.4H364.3M360.8 248.9H367.2M360.8 247.4V248.9M365.0 251.1H367.2M365.0 251.8H367.2M365.0 251.1V251.8M362.6 250.1H367.2M362.6 251.5H365.0M362.6 250.1V251.5M359.2 248.1H360.8M359.2 250.8H362.6M359.2 248.1V250.8M363.6 252.5H367.2M363.6 253.5H367.2M363.6 252.5V253.5M364.1 254.5H367.2M364.1 255.4H367.2M364.1 254.5V255.4M360.5 253.0H363.6M360.5 254.9H364.1M360.5 253.0V254.9M365.0 257.3H367.2M365.0 258.0H367.2M365.0 257.3V258.0M363.0 256.5H367.2M363.0 257.7H365.0M363.0 256.5V257.7M356.8 254.0H360.5M356.8 257.1H363.0M356.8 254.0V257.1M351.4 249.5H359.2M351.4 255.5H356.8M351.4 249.5V255.5M364.8 260.2H367.2M364.8 261.0H367.2M364.8 260.2V261.0M362.6 259.5H367.2M362.6 260.6H364.8M362.6 259.5V260.6M363.4 261.8H367.2M363.4 262.7H367.2M363.4 261.8V262.7M357.6 260.0H362.6M357.6 262.2H363.4M357.6 260.0V262.2M363.6 264.9H367.2M363.6 265.7H367.2M363.6 264.9V265.7M362.0 264.1H367.2M362.0 265.3H363.6M362.0 264.1V265.3M362.6 266.5H367.2M362.6 267.4H367.2M362.6 266.5V267.4M363.7 268.4H367.2M363.7 269.2H367.2M363.7 268.4V269.2M359.3 267.0H362.6M359.3 268.8H363.7M359.3 267.0V268.8M357.4 264.7H362.0M357.4 267.9H359.3M357.4 264.7V267.9M364.7 270.0H367.2M364.7 270.8H367.2M364.7 270.0V270.8M363.7 271.9H367.2M363.7 272.9H367.2M363.7 271.9V272.9M359.8 270.4H364.7M359.8 272.4H363.7M359.8 270.4V272.4M364.5 275.0H367.2M364.5 275.8H367.2M364.5 275.0V275.8M361.4 274.0H367.2M361.4 275.4H364.5M361.4 274.0V275.4M357.9 271.4H359.8M357.9 274.7H361.4M357.9 271.4V274.7M361.4 276.9H367.2M361.4 278.0H367.2M361.4 276.9V278.0M363.6 279.0H367.2M363.6 279.8H367.2M363.6 279.0V279.8M359.2 277.4H361.4M359.2 279.4H363.6M359.2 277.4V279.4M355.3 273.1H357.9M355.3 278.4H359.2M355.3 273.1V278.4M351.1 266.3H357.4M351.1 275.7H355.3M351.1 266.3V275.7M338.9 82.2V104.8M338.9 82.2H351.7M338.9 104.8H348.5M316.2 94.1V117.9M316.2 94.1H338.9M316.2 117.9H350.3M333.8 133.2V153.9M333.8 133.2H347.6M333.8 153.9H352.5M314.0 106.0V143.0M314.0 106.0H316.2M314.0 143.0H333.8M339.6 161.8V167.5M339.6 161.8H357.6M339.6 167.5H352.0M344.7 191.3V208.2M344.7 191.3H351.4M344.7 208.2H350.0M345.6 220.6V234.0M345.6 220.6H359.0M345.6 234.0H349.7M326.7 200.3V227.6M326.7 200.3H344.7M326.7 227.6H345.6M341.0 261.0V271.3M341.0 261.0H357.6M341.0 271.3H351.1M326.8 251.8V266.1M326.8 251.8H351.4M326.8 266.1H341.0M313.0 214.0V259.2M313.0 214.0H326.7M313.0 259.2H326.8M307.0 124.8V236.7M307.0 124.8H314.0M307.0 165.0H339.6M307.0 236.7H313.0" stroke="#333" stroke-width="0.55" fill="none"/>
</g>
<g id="markers" filter="url(#soft)" stroke="#3c87d0" fill="none">
<path d="M534 124.2V161.4M533.9 246.7V280.5" stroke-width="1.5"/>
<path d="M539.6 145.6V139.6M537.6 141.7L539.6 139.5L541.6 141.7" stroke-width="0.7"/>
<path d="M539.7 260.8V266.4M537.7 264.3L539.7 266.5L541.7 264.3" stroke-width="0.7"/>
</g>
</svg></body></html>
